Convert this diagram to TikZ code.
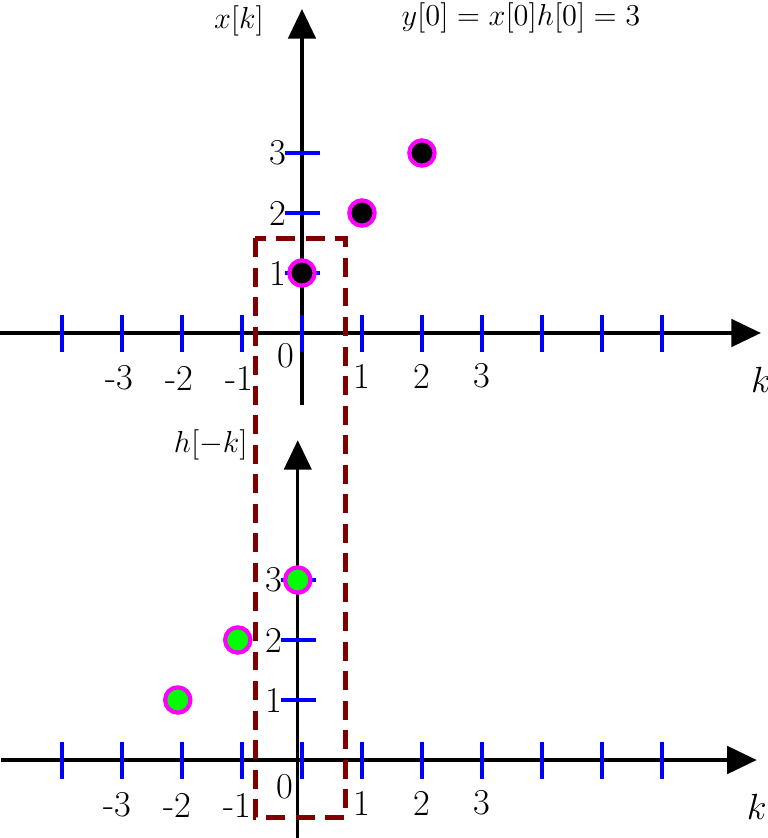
\documentclass[tikz,border=0pt]{standalone}
\usepackage{amsmath}
\definecolor{tickblue}{HTML}{0000FF}
\definecolor{ringmag}{HTML}{FF00FF}
\definecolor{boxred}{HTML}{800000}
\definecolor{dotgreen}{HTML}{00FF00}
\tikzset{
  axis/.style={line width=1.6pt, -{Triangle[length=14pt,width=13pt]}},
  tick/.style={tickblue, line width=2pt},
  sample/.style={circle, draw=ringmag, line width=2pt, inner sep=0pt, minimum size=12pt},
  lbl/.style={font=\LARGE, inner sep=1pt, text=black}
}
\usetikzlibrary{arrows.meta}
\begin{document}
\begin{tikzpicture}
            \useasboundingbox (-5.033,-8.417) rectangle (7.767,5.55);

            % Upper plot: x[k]
            \draw[axis] (-5.033,0) -- (7.65,0) node[below=12pt, font=\LARGE] (xk) {$k$};
            \draw[axis] (0,-1.2) -- (0,5.4);
            \foreach \x in {-4,...,6}
                \draw[tick] (\x,-0.32) -- (\x,0.3);
            \foreach \y in {1,2,3}
                \draw[tick] (-0.28,\y) -- (0.3,\y) node[lbl, left=14pt] {\y};
            \foreach \x in {-3,-2,-1}
                \node[lbl] at (\x-0.05,-0.75) {\x};
            \foreach \x in {1,2,3}
                \node[lbl] at (\x,-0.72) {\x};
            \node[lbl] (x0) at (-0.27,-0.38) {0};
            \node[font=\Large] (xlab) at (-1.05,5.2) {$x[k]$};
            \node[font=\Large] (ylab) at (3.65,5.25) {$y[0]=x[0]h[0]=3$};
            \foreach \x/\y in {0/1,1/2,2/3}
                \node[sample, fill=black] (xs\x) at (\x,\y) {};

            % Lower plot: h[-k]
            \begin{scope}[yshift=-7.117cm, xshift=-0.07cm]
            \draw[axis] (-4.95,0) -- (7.65,0) node[below=12pt, font=\LARGE] (hk) {$k$};
            \draw[axis] (0,-1.3) -- (0,5.33);
            \foreach \x in {-4,...,6}
                \draw[tick] (\x+0.07,-0.32) -- (\x+0.07,0.3);
            \foreach \y in {1,2,3}
                \draw[tick] (-0.28,\y) -- (0.3,\y) node[lbl, left=14pt] {\y};
            \foreach \x in {-3,-2,-1}
                \node[lbl] at (\x,-0.75) {\x};
            \foreach \x in {1,2,3}
                \node[lbl] at (\x+0.07,-0.72) {\x};
            \node[lbl] (h0) at (-0.22,-0.45) {0};
            \node[font=\Large] (hlab) at (-1.45,5.25) {$h[-k]$};
            \foreach \x/\y in {0/3,-1/2,-2/1}
                \node[sample, fill=dotgreen] (hs\x) at (\x,\y) {};
            \end{scope}

            % Window
            \draw[boxred, dashed, line width=2.5pt, dash pattern=on 9pt off 5pt]
                (-0.78,1.58) rectangle (0.72,-8.08);
\end{tikzpicture}
\end{document}
